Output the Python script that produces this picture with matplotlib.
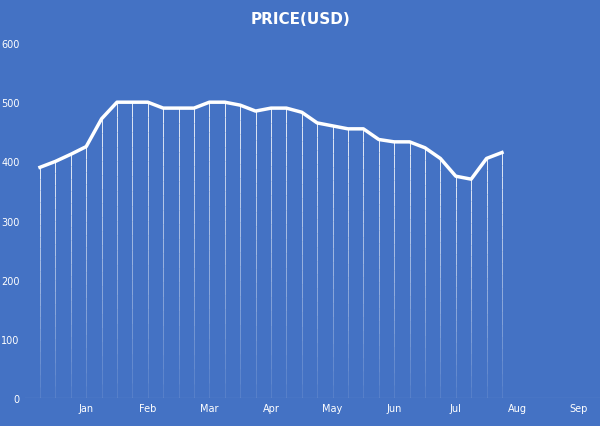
import numpy as np
import matplotlib.pyplot as plt

prices = [390, 400, 412, 425, 472, 500, 500, 500, 490, 490, 490, 500, 500, 495, 485, 490,
          490, 483, 465, 460, 455, 455, 437, 433, 433, 423, 405, 375, 370, 405, 415]
months = ['Jan', 'Feb', 'Mar', 'Apr', 'May', 'Jun', 'Jul', 'Aug', 'Sep']
month_pos = [3 + 4 * i for i in range(len(months))]

bg = '#4472C4'
fig = plt.figure(figsize=(6, 4.27), dpi=100, facecolor=bg)
ax = fig.add_axes([0.041, 0.065, 0.965, 0.832], facecolor=bg)

x = np.arange(len(prices))
# drop lines fading toward the bottom
for xi, yi in zip(x, prices):
    n = 20
    edges = np.linspace(0, yi, n + 1)
    for k in range(n):
        ax.plot([xi, xi], [edges[k], edges[k + 1]], color='white', lw=0.7,
                alpha=0.1 + 0.8 * k / n, solid_capstyle='butt')
ax.plot(x, prices, color='white', lw=2.5)

ax.set_xlim(-1, 36.6)
ax.set_ylim(0, 600)
ax.set_yticks(range(0, 601, 100))
ax.set_xticks(month_pos)
ax.set_xticklabels(months)
ax.tick_params(colors='white', labelsize=7, length=0)
for s in ax.spines.values():
    s.set_visible(False)
ax.axhline(0, color='#9fb6e0', lw=0.8)
fig.text(0.5, 0.955, 'PRICE(USD)', color='white', fontsize=11, fontweight='bold',
         ha='center', va='center')
fig.savefig('out.png', facecolor=bg)
